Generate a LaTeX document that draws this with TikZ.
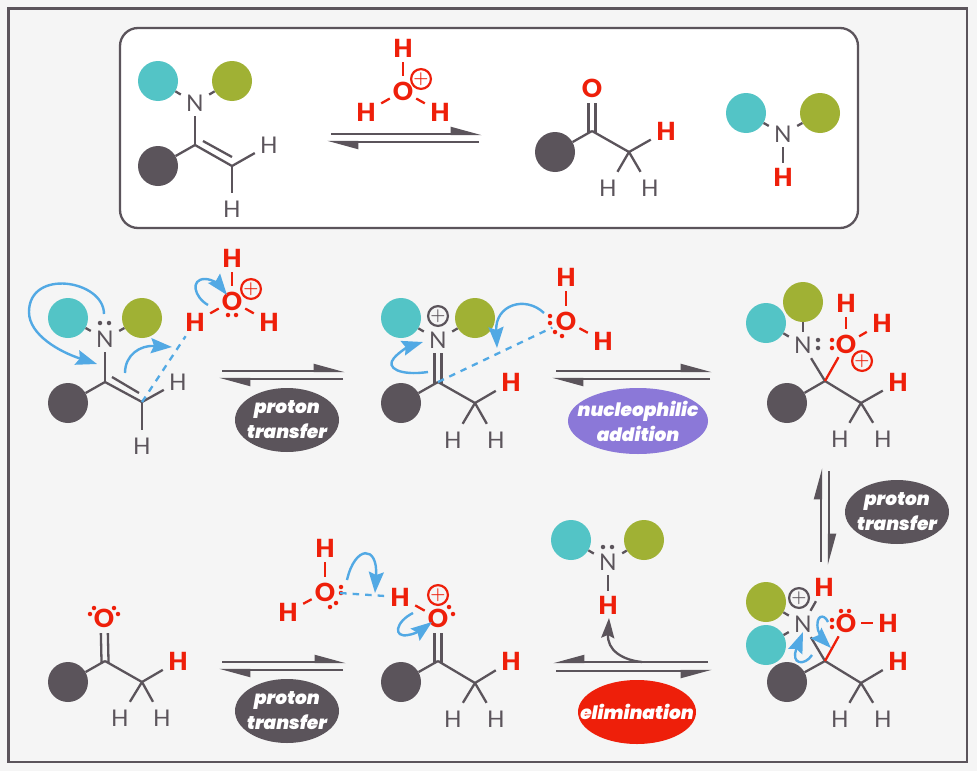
\documentclass[tikz,border=0pt]{standalone}
\usepackage{fontspec}
\setmainfont{Lato}
\newfontfamily\thinfont{Lato}
\newfontfamily\heavyfont[UprightFont=* Black]{Lato}
\newfontfamily\tagfont[BoldItalicFont=* Black Italic]{Poppins}
\usepackage{tikz}
\usetikzlibrary{arrows.meta}
\usetikzlibrary{shapes}
\definecolor{ink}{HTML}{5B545B}
\definecolor{paper}{HTML}{F5F5F5}
\definecolor{redc}{HTML}{EE1F0A}
\definecolor{bluec}{HTML}{52A9E4}
\definecolor{tealc}{HTML}{53C4C6}
\definecolor{olivec}{HTML}{A0B134}
\definecolor{purplec}{HTML}{8B78D8}

\begin{document}
\begin{tikzpicture}[x=1pt,y=-1pt]
  \tikzstyle{tealball}=[circle, fill=tealc, minimum size=40pt, inner sep=0pt]
  \tikzstyle{oliveball}=[circle, fill=olivec, minimum size=40pt, inner sep=0pt]
  \tikzstyle{darkball}=[circle, fill=ink, minimum size=40pt, inner sep=0pt]
  \tikzstyle{natom}=[rectangle, minimum width=28pt, minimum height=26pt, inner sep=0pt, text=ink, font=\thinfont\fontsize{23}{23}\selectfont]
  \tikzstyle{hatom}=[rectangle, minimum width=28pt, minimum height=32pt, inner sep=0pt, text=ink, font=\thinfont\fontsize{23}{23}\selectfont]
  \tikzstyle{redh}=[rectangle, minimum width=30pt, minimum height=28pt, inner sep=0pt, text=redc, font=\heavyfont\fontsize{25}{25}\selectfont]
  \tikzstyle{redo}=[circle, minimum size=30pt, inner sep=0pt, text=redc, font=\heavyfont\fontsize{25}{25}\selectfont]
  \tikzstyle{redplus}=[circle, draw=redc, line width=2.2pt, minimum size=19pt, inner sep=0pt, text=redc, font=\mathversion{bold}\fontsize{16}{16}\selectfont]
  \tikzstyle{inkplus}=[circle, draw=ink, line width=2.2pt, minimum size=19pt, inner sep=0pt, text=ink, font=\mathversion{bold}\fontsize{16}{16}\selectfont]
  \tikzstyle{reddot}=[circle, fill=redc, minimum size=4.5pt, inner sep=0pt]
  \tikzstyle{inkdot}=[circle, fill=ink, minimum size=4.5pt, inner sep=0pt]
  \tikzstyle{bond}=[draw=ink, line width=2.3pt]
  \tikzstyle{redbond}=[draw=redc, line width=2.3pt]
  \tikzstyle{dblleft}=[bond, transform canvas={xshift=-3.5pt}, shorten >=-2pt]
  \tikzstyle{dblright}=[bond, transform canvas={xshift=3.5pt}, shorten >=-2pt]
  \tikzstyle{dashbond}=[draw=bluec, line width=2.3pt, dash pattern=on 6.5pt off 6pt]
  \tikzstyle{curly}=[draw=bluec, line width=2.4pt, -{Stealth[length=21pt, width=15pt, inset=3pt]}]
  \tikzstyle{leave}=[draw=ink, line width=2.3pt, -{Stealth[length=20pt, width=13pt, inset=3pt]}]
  \tikzstyle{eq}=[draw=ink, line width=2.3pt, -{Stealth[harpoon, length=27pt, width=14pt, inset=0pt]}]
  \tikzstyle{eqswap}=[draw=ink, line width=2.3pt, -{Stealth[harpoon, swap, length=27pt, width=14pt, inset=0pt]}]
  \tikzstyle{tag}=[ellipse, inner sep=-16pt, align=center, text=white, font=\tagfont\bfseries\itshape\fontsize{18.5}{25}\selectfont]

  \fill[paper] (0,0) rectangle (977,771);
  \useasboundingbox (0,0) rectangle (977,771);
  \draw[ink, line width=2.5pt] (8.7,8.7) rectangle (967,762);
  \draw[ink, fill=white, line width=2.3pt, rounded corners=18pt] (120,28) rectangle (858,228);

  % top box: enamine
  \node[tealball] (ta) at (158,81) {};
  \node[oliveball] (oa) at (232,81) {};
  \node[darkball] (da) at (158,166) {};
  \node[natom] (na) at (195,103) {N};
  \coordinate (ca) at (195,145);
  \coordinate (cb) at (232,166);
  \coordinate (cc) at (203,141);
  \coordinate (cd) at (232,157);
  \node[hatom] (ha) at (269,145) {H};
  \node[hatom] (hb) at (232,209) {H};
  \path (ta) edge [bond] (na)
        (oa) edge [bond] (na)
        (na) edge [bond] (ca)
        (da) edge [bond] (ca)
        (ca) edge [bond] (cb)
        (cc) edge [bond] (cd)
        (cb) edge [bond] (ha)
        (cb) edge [bond] (hb);
  % top box: hydronium
  \node[redo] (ow) at (403,91) {O};
  \node[redh] (hw1) at (403,48) {H};
  \node[redh] (hw2) at (366,112) {H};
  \node[redh] (hw3) at (440,112) {H};
  \node[redplus] (pw) at (421,79) {$+$};
  \path (ow) edge [redbond] (hw1)
        (ow) edge [redbond] (hw2)
        (ow) edge [redbond] (hw3);
  \coordinate (eqa1) at (331,134);
  \coordinate (eqa2) at (482,134);
  \coordinate (eqa3) at (479,142);
  \coordinate (eqa4) at (327,142);
  \path (eqa1) edge [eq] (eqa2)
        (eqa3) edge [eq] (eqa4);
  % top box: ketone
  \node[redo] (ok) at (592,88) {O};
  \coordinate (ck1) at (592,131);
  \coordinate (ck2) at (629,152);
  \node[darkball] (dk) at (555,152) {};
  \node[redh] (hk1) at (666,131) {H};
  \node[hatom] (hk2) at (608,188) {H};
  \node[hatom] (hk3) at (650,188) {H};
  \path (ok) edge [dblleft] (ck1)
        (ok) edge [dblright] (ck1)
        (dk) edge [bond] (ck1)
        (ck1) edge [bond] (ck2)
        (ck2) edge [bond] (hk1)
        (ck2) edge [bond] (hk2)
        (ck2) edge [bond] (hk3);
  % top box: amine
  \node[tealball] (tm) at (746,113) {};
  \node[oliveball] (om) at (820,113) {};
  \node[natom] (nm) at (783,134) {N};
  \node[redh] (hm) at (783,177) {H};
  \path (tm) edge [bond] (nm)
        (om) edge [bond] (nm)
        (nm) edge [bond] (hm);

  % first row, left
  \node[tealball] (tb) at (68,318) {};
  \node[oliveball] (ob) at (142,318) {};
  \node[darkball] (db) at (68,403) {};
  \node[natom] (nb) at (105,339) {N};
  \node[inkdot] (lb1) at (100,323) {};
  \node[inkdot] (lb2) at (109,323) {};
  \coordinate (cb1) at (105,382);
  \coordinate (cb2) at (142,402);
  \coordinate (cb3) at (112,377);
  \coordinate (cb4) at (139,393);
  \node[hatom] (hb1) at (178,382) {H};
  \node[hatom] (hb2) at (142,446) {H};
  \path (tb) edge [bond] (nb)
        (ob) edge [bond] (nb)
        (nb) edge [bond] (cb1)
        (db) edge [bond] (cb1)
        (cb1) edge [bond] (cb2)
        (cb3) edge [bond] (cb4)
        (cb2) edge [bond] (hb1)
        (cb2) edge [bond] (hb2);
  \node[redo] (oq) at (232,301) {O};
  \node[redh] (hq1) at (232,258) {H};
  \node[redh] (hq2) at (195,322) {H};
  \node[redh] (hq3) at (269,322) {H};
  \node[redplus] (pq) at (251,289) {$+$};
  \node[reddot] (lq1) at (228,315) {};
  \node[reddot] (lq2) at (236,315) {};
  \path (oq) edge [redbond] (hq1)
        (oq) edge [redbond] (hq2)
        (oq) edge [redbond] (hq3)
        (cb2) edge [dashbond] (hq2);
  \coordinate (fb1) at (104,314);
  \coordinate (fb2) at (97,364);
  \coordinate (fb3) at (125,373);
  \coordinate (fb4) at (172,347);
  \coordinate (fb5) at (208,305);
  \coordinate (fb6) at (227,295);
  \draw[curly] (fb1) .. controls (104,280) and (29,268) .. (29,312) .. controls (29,335) and (60,352) .. (fb2);
  \draw[curly] (fb3) .. controls (125,355) and (140,345) .. (fb4);
  \draw[curly] (fb5) .. controls (194,297) and (190,279) .. (205,279) .. controls (213,279) and (220,286) .. (fb6);
  \coordinate (eqb1) at (222,371);
  \coordinate (eqb2) at (345,371);
  \coordinate (eqb3) at (343,379);
  \coordinate (eqb4) at (219,379);
  \path (eqb1) edge [eq] (eqb2)
        (eqb3) edge [eq] (eqb4);
  \node[tag, fill=ink, minimum width=104pt, minimum height=64pt] (tagb) at (287,420) {proton\\transfer};

  % first row, middle
  \node[tealball] (tc) at (401,318) {};
  \node[oliveball] (oc) at (475,318) {};
  \node[darkball] (dc) at (401,403) {};
  \node[inkplus] (pc) at (438,316) {$+$};
  \node[natom] (nc) at (438,340) {N};
  \coordinate (cc1) at (438,382);
  \coordinate (cc2) at (475,403);
  \node[redh] (hc1) at (511,382) {H};
  \node[hatom] (hc2) at (453,440) {H};
  \node[hatom] (hc3) at (496,440) {H};
  \path (tc) edge [bond] (nc)
        (oc) edge [bond] (nc)
        (nc) edge [dblleft] (cc1)
        (nc) edge [dblright] (cc1)
        (dc) edge [bond] (cc1)
        (cc1) edge [bond] (cc2)
        (cc2) edge [bond] (hc1)
        (cc2) edge [bond] (hc2)
        (cc2) edge [bond] (hc3);
  \node[redo] (or) at (566,321) {O};
  \node[redh] (hr1) at (566,277) {H};
  \node[redh] (hr2) at (603,341) {H};
  \foreach \x/\y [count=\i] in {550/316, 550/323, 555/332, 562/336}
    \node[reddot] (lr\i) at (\x,\y) {};
  \path (or) edge [redbond] (hr1)
        (or) edge [redbond] (hr2)
        (cc1) edge [dashbond] (or);
  \coordinate (fc1) at (544,313);
  \coordinate (fc2) at (497,348);
  \coordinate (fc3) at (428,372);
  \coordinate (fc4) at (423,342);
  \draw[curly] (fc1) .. controls (525,295) and (495,305) .. (fc2);
  \draw[curly] (fc3) .. controls (400,376) and (385,368) .. (394,358) .. controls (400,351) and (410,346) .. (fc4);
  \coordinate (eqc1) at (556,371);
  \coordinate (eqc2) at (712,371);
  \coordinate (eqc3) at (710,379);
  \coordinate (eqc4) at (552,379);
  \path (eqc1) edge [eq] (eqc2)
        (eqc3) edge [eq] (eqc4);
  \node[tag, fill=purplec, minimum width=140pt, minimum height=66pt] (tagc) at (638,421) {nucleophilic\\addition};

  % first row, right
  \node[oliveball] (od) at (803,302) {};
  \node[tealball] (td) at (766,323) {};
  \node[darkball] (dd) at (787,403) {};
  \node[natom] (nd) at (803,345) {N};
  \node[inkdot] (ld1) at (818,340) {};
  \node[inkdot] (ld2) at (818,348) {};
  \node[redo] (oe) at (846,344) {O};
  \node[reddot] (le1) at (832,340) {};
  \node[reddot] (le2) at (832,348) {};
  \node[redh] (he1) at (846,303) {H};
  \node[redh] (he2) at (882,323) {H};
  \node[redplus] (pe) at (862,361) {$+$};
  \coordinate (cd1) at (825,381);
  \coordinate (cd2) at (861,403);
  \node[redh] (hd1) at (898,382) {H};
  \node[hatom] (hd2) at (840,439) {H};
  \node[hatom] (hd3) at (883,439) {H};
  \path (td) edge [bond] (nd)
        (od) edge [bond] (nd)
        (nd) edge [bond] (cd1)
        (dd) edge [bond] (cd1)
        (cd1) edge [bond] (cd2)
        (cd2) edge [bond] (hd1)
        (cd2) edge [bond] (hd2)
        (cd2) edge [bond] (hd3)
        (oe) edge [redbond] (he1)
        (oe) edge [redbond] (he2)
        (oe) edge [redbond] (cd1);

  % right column arrows
  \coordinate (eqd1) at (821,562);
  \coordinate (eqd2) at (821,468);
  \coordinate (eqd3) at (829,471);
  \coordinate (eqd4) at (829,565);
  \path (eqd1) edge [eq] (eqd2)
        (eqd3) edge [eq] (eqd4);
  \node[tag, fill=ink, minimum width=104pt, minimum height=64pt] (tagd) at (897,512) {proton\\transfer};

  % last row, right
  \node[oliveball] (of) at (766,602) {};
  \node[tealball] (tf) at (766,645) {};
  \node[darkball] (df) at (787,682) {};
  \node[inkplus] (pf) at (799,598) {$+$};
  \node[natom] (nf) at (803,624) {N};
  \node[redh] (hf0) at (824,587) {H};
  \node[redo] (og) at (846,623) {O};
  \node[redh] (hg) at (888,623) {H};
  \foreach \x/\y [count=\i] in {841/611, 849/611, 832/620, 832/627}
    \node[reddot] (lg\i) at (\x,\y) {};
  \coordinate (cf1) at (825,661);
  \coordinate (cf2) at (861,683);
  \node[redh] (hf1) at (898,661) {H};
  \node[hatom] (hf2) at (840,719) {H};
  \node[hatom] (hf3) at (883,719) {H};
  \path (of) edge [bond] (nf)
        (tf) edge [bond] (nf)
        (nf) edge [bond] (hf0)
        (nf) edge [bond] (cf1)
        (df) edge [bond] (cf1)
        (cf1) edge [bond] (cf2)
        (cf2) edge [bond] (hf1)
        (cf2) edge [bond] (hf2)
        (cf2) edge [bond] (hf3)
        (og) edge [redbond] (hg)
        (og) edge [redbond] (cf1);
  \coordinate (ff1) at (812,655);
  \coordinate (ff2) at (803,632);
  \coordinate (ff3) at (828,622);
  \coordinate (ff4) at (831,648);
  \draw[curly] (ff1) .. controls (805,666) and (790,665) .. (ff2);
  \draw[curly] (ff3) .. controls (824,613) and (815,615) .. (818,630) .. controls (820,636) and (825,642) .. (ff4);

  % last row, amine and elimination
  \node[tealball] (th) at (571,540) {};
  \node[oliveball] (oh) at (644,540) {};
  \node[natom] (nh) at (608,562) {N};
  \node[inkdot] (lh1) at (603,547) {};
  \node[inkdot] (lh2) at (612,547) {};
  \node[redh] (hh) at (608,605) {H};
  \path (th) edge [bond] (nh)
        (oh) edge [bond] (nh)
        (nh) edge [bond] (hh);
  \coordinate (eqe1) at (708,662);
  \coordinate (eqe2) at (553,662);
  \coordinate (eqe3) at (556,671);
  \coordinate (eqe4) at (712,671);
  \path (eqe1) edge [eqswap] (eqe2)
        (eqe3) edge [eqswap] (eqe4);
  \coordinate (lv1) at (642,662);
  \coordinate (lv2) at (609,618);
  \draw[leave] (lv1) .. controls (622,660) and (607,650) .. (lv2);
  \node[tag, fill=redc, minimum width=118pt, minimum height=64pt] (tage) at (637,712) {elimination};

  % last row, middle
  \node[darkball] (dj) at (401,682) {};
  \node[redo] (oj) at (438,618) {O};
  \node[redplus] (pj) at (438,595) {$+$};
  \node[reddot] (lj1) at (449,607) {};
  \node[reddot] (lj2) at (453,614) {};
  \node[redh] (hj0) at (400,597) {H};
  \coordinate (cj1) at (438,661);
  \coordinate (cj2) at (475,683);
  \node[redh] (hj1) at (511,661) {H};
  \node[hatom] (hj2) at (453,719) {H};
  \node[hatom] (hj3) at (496,719) {H};
  \path (oj) edge [dblleft] (cj1)
        (oj) edge [dblright] (cj1)
        (oj) edge [redbond] (hj0)
        (dj) edge [bond] (cj1)
        (cj1) edge [bond] (cj2)
        (cj2) edge [bond] (hj1)
        (cj2) edge [bond] (hj2)
        (cj2) edge [bond] (hj3);
  \node[redo] (os) at (325,592) {O};
  \node[redh] (hs1) at (325,548) {H};
  \node[redh] (hs2) at (288,612) {H};
  \foreach \x/\y [count=\i] in {341/587, 341/593, 336/603, 330/607}
    \node[reddot] (ls\i) at (\x,\y) {};
  \path (os) edge [redbond] (hs1)
        (os) edge [redbond] (hs2)
        (os) edge [dashbond] (hj0);
  \coordinate (fj1) at (347,580);
  \coordinate (fj2) at (375,593);
  \coordinate (fj3) at (413,613);
  \coordinate (fj4) at (432,622);
  \draw[curly] (fj1) .. controls (355,545) and (378,545) .. (fj2);
  \draw[curly] (fj3) .. controls (395,622) and (393,638) .. (408,635) .. controls (416,634) and (424,628) .. (fj4);

  % last row, left
  \node[darkball] (dl) at (68,682) {};
  \node[redo] (ol) at (104,618) {O};
  \foreach \x/\y [count=\i] in {90/614, 94/608, 114/608, 118/614}
    \node[reddot] (ll\i) at (\x,\y) {};
  \coordinate (cl1) at (105,661);
  \coordinate (cl2) at (142,682);
  \node[redh] (hl1) at (178,661) {H};
  \node[hatom] (hl2) at (120,718) {H};
  \node[hatom] (hl3) at (162,718) {H};
  \path (ol) edge [dblleft] (cl1)
        (ol) edge [dblright] (cl1)
        (dl) edge [bond] (cl1)
        (cl1) edge [bond] (cl2)
        (cl2) edge [bond] (hl1)
        (cl2) edge [bond] (hl2)
        (cl2) edge [bond] (hl3);
  \coordinate (eql1) at (222,662);
  \coordinate (eql2) at (346,662);
  \coordinate (eql3) at (343,670);
  \coordinate (eql4) at (219,670);
  \path (eql1) edge [eq] (eql2)
        (eql3) edge [eq] (eql4);
  \node[tag, fill=ink, minimum width=104pt, minimum height=64pt] (tagl) at (287,711) {proton\\transfer};
\end{tikzpicture}
\end{document}
